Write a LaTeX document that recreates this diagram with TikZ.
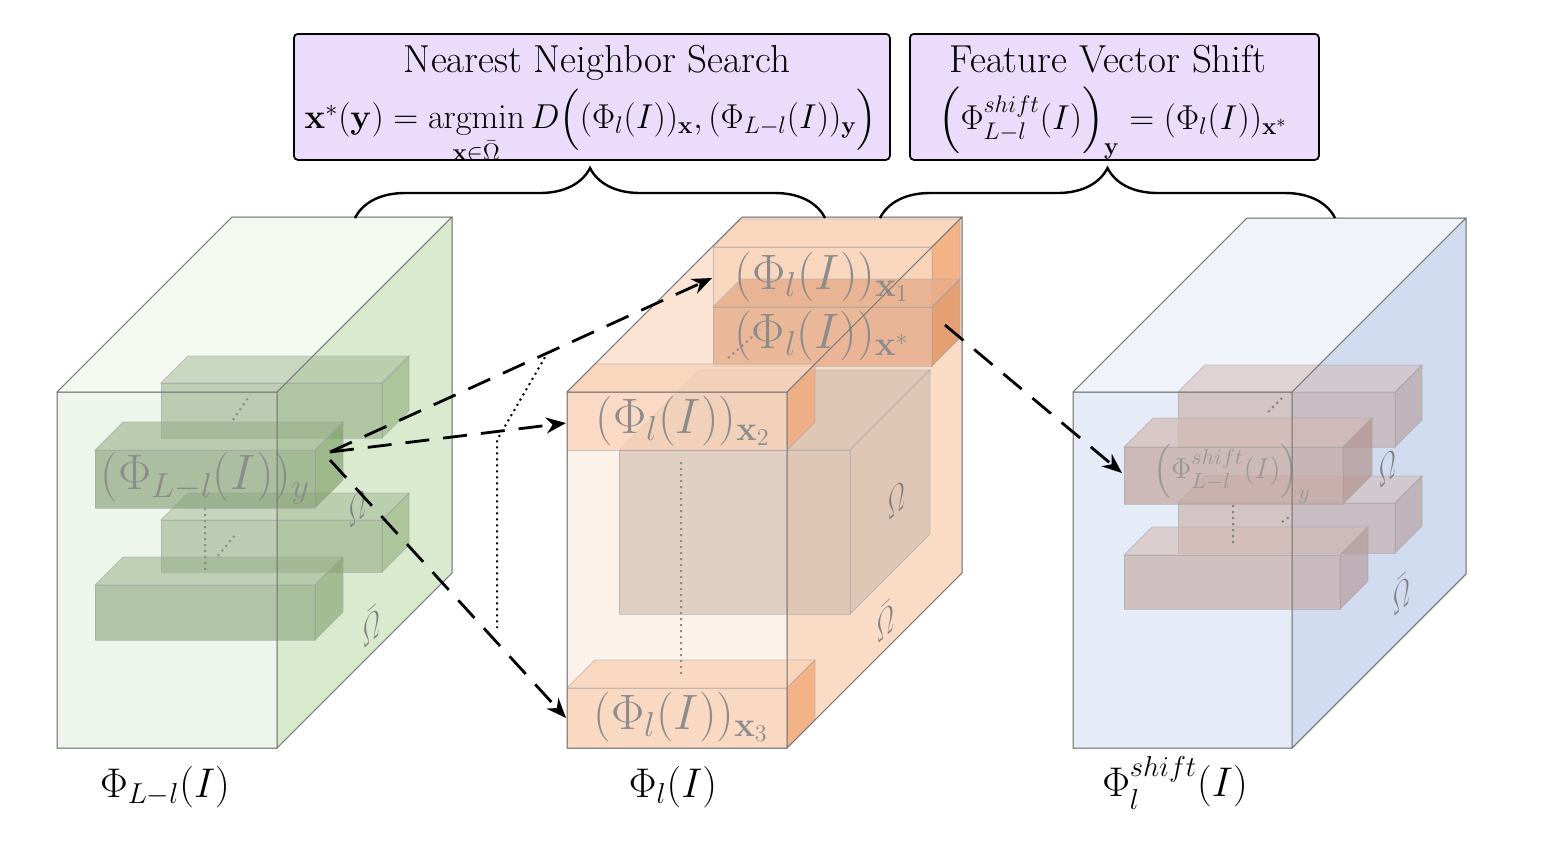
\documentclass[tikz,border=0pt]{standalone}
\usepackage{amsmath,amssymb}
\usetikzlibrary{arrows.meta,decorations.pathreplacing}
\newcommand\boxq[9]{% x y w h d front top side opacity
 \fill[#6,fill opacity=#9,draw=black!35,draw opacity=.6] (#1,#2) rectangle ({#1+#3},{#2+#4});
 \fill[#7,fill opacity=#9,draw=black!35,draw opacity=.6] (#1,#2) -- ({#1+#5},{#2-#5}) -- ({#1+#3+#5},{#2-#5}) -- ({#1+#3},#2) -- cycle;
 \fill[#8,fill opacity=#9,draw=black!35,draw opacity=.6] ({#1+#3},#2) -- ({#1+#3+#5},{#2-#5}) -- ({#1+#3+#5},{#2+#4-#5}) -- ({#1+#3},{#2+#4}) -- cycle;}
\newcommand\cubeedges[5]{% x y w h d
 \draw[black!55,line width=0.5pt] (#1,#2) rectangle ({#1+#3},{#2+#4})
 (#1,#2) -- ({#1+#5},{#2-#5}) -- ({#1+#3+#5},{#2-#5}) -- ({#1+#3},#2)
 ({#1+#3+#5},{#2-#5}) -- ({#1+#3+#5},{#2+#4-#5}) -- ({#1+#3},{#2+#4});}
\definecolor{gF}{HTML}{EEF5EA}\definecolor{gT}{HTML}{F3F8F0}\definecolor{gS}{HTML}{D9EACE}
\definecolor{gbF}{HTML}{7F9C70}\definecolor{gbT}{HTML}{98B089}\definecolor{gbS}{HTML}{76995F}
\definecolor{oF}{HTML}{FDF2EA}\definecolor{oT}{HTML}{FCE4D4}\definecolor{oS}{HTML}{FADCC6}
\definecolor{o1F}{HTML}{F9D3B9}\definecolor{o1S}{HTML}{F3A878}
\definecolor{o2F}{HTML}{E6AC8A}\definecolor{o2S}{HTML}{DF915F}
\definecolor{gyF}{HTML}{CFB8A8}
\definecolor{bF}{HTML}{E6ECF7}\definecolor{bT}{HTML}{F0F3FA}\definecolor{bS}{HTML}{D0DBEF}
\definecolor{pF}{HTML}{C4A49F}\definecolor{pT}{HTML}{D4BAB5}\definecolor{pS}{HTML}{B39490}
\definecolor{lav}{HTML}{EBDCFB}
\tikzset{
 lbl/.style={text=black!45,font=\fontsize{25}{28}\selectfont,inner sep=0pt},
 om/.style={text=black!50,font=\fontsize{22}{24}\selectfont,yslant=0.9,xscale=0.6,transform shape},
 dasharr/.style={line width=1.4pt,dash pattern=on 12pt off 7pt,-{Stealth[length=10pt,width=8pt]}},
 hdr/.style={draw=black,line width=0.9pt,fill=lav,rounded corners=2pt},
 brace/.style={line width=1.2pt,decorate,decoration={brace,amplitude=25pt}},
 capt/.style={font=\fontsize{19.5}{22}\selectfont},
 formA/.style={font=\fontsize{17}{20}\selectfont},
 formB/.style={font=\fontsize{18.5}{20}\selectfont},
 captb/.style={font=\fontsize{21}{24}\selectfont}
}
\begin{document}
\begin{tikzpicture}[x=0.5pt,y=-0.5pt]
\useasboundingbox (0,0) rectangle (1566,843);
% ---------- left cube
\boxq{57}{392}{220}{356}{175}{gF}{gT}{gS}{1}
\boxq{161}{383}{221}{55}{27}{gbF}{gbT}{gbS}{.45}
\boxq{161}{520}{221}{52}{27}{gbF}{gbT}{gbS}{.45}
\boxq{95}{585}{220}{55}{28}{gbF}{gbT}{gbS}{.55}
\boxq{95}{450}{220}{58}{28}{gbF}{gbT}{gbS}{.6}
\draw[black!45,dotted,line width=1pt] (205,508)--(205,572) (218,556)--(235,535) (233,420)--(250,395);
\node[lbl,anchor=west] (py) at (100,478) {$(\Phi_{L-l}(I))_y$};
\cubeedges{57}{392}{220}{356}{175}
\node[om] (om1) at (358,508) {$\Omega$};
\node[om] (omb1) at (372,625) {$\bar\Omega$};
% ---------- middle cube
\boxq{567}{392}{220}{356}{175}{oF}{oT}{oS}{1}
\boxq{619}{450}{231}{164}{80}{gyF}{gyF}{gyF}{.6}
\boxq{713}{247}{219}{60}{28}{o1F}{o1F}{o1S}{.8}
\boxq{713}{307}{219}{59}{28}{o2F}{o2F}{o2S}{.8}
\boxq{567}{392}{220}{58}{28}{o1F}{o1F}{o1S}{.75}
\boxq{567}{688}{220}{60}{28}{o1F}{o1F}{o1S}{.8}
\draw[black!45,dotted,line width=1pt] (681,462)--(681,676) (728,358)--(760,330);
\node[lbl] (x1) at (822,277) {$(\Phi_l(I))_{\mathbf{x}_1}$};
\node[lbl] (xs) at (822,336) {$(\Phi_l(I))_{\mathbf{x}^*}$};
\node[lbl] (x2) at (683,421) {$(\Phi_l(I))_{\mathbf{x}_2}$};
\node[lbl] (x3) at (681,717) {$(\Phi_l(I))_{\mathbf{x}_3}$};
\cubeedges{567}{392}{220}{356}{175}
\node[om] (om2) at (897,500) {$\Omega$};
\node[om] (omb2) at (886,620) {$\bar\Omega$};
% ---------- right cube
\boxq{1073}{392}{219}{356}{174}{bF}{bT}{bS}{1}
\boxq{1178}{392}{217}{55}{27}{pF}{pT}{pS}{.55}
\boxq{1178}{503}{217}{50}{27}{pF}{pT}{pS}{.55}
\boxq{1124}{555}{216}{54}{28}{pF}{pT}{pS}{.6}
\boxq{1124}{447}{219}{57}{29}{pF}{pT}{pS}{.7}
\draw[black!50,dotted,line width=1pt] (1233,505)--(1233,543) (1282,522)--(1292,515) (1268,412)--(1282,398);
\node[lbl,font=\fontsize{15}{17}\selectfont,text=black!40] (ys) at (1232,474) {$\left(\Phi^{shift}_{L-l}(I)\right)_y$};
\cubeedges{1073}{392}{219}{356}{174}
\node[om] (om3) at (1388,468) {$\Omega$};
\node[om] (omb3) at (1402,593) {$\bar\Omega$};
% ---------- arrows
\coordinate (s) at (330,452);
\coordinate (s2) at (330,460);
\coordinate (t1) at (712,278);
\coordinate (t2) at (566,423);
\coordinate (t3) at (566,718);
\coordinate (s4) at (945,325);
\coordinate (t4) at (1122,473);
\draw[dasharr] (s) -- (t1);
\draw[dasharr] (s) -- (t2);
\draw[dasharr] (s2) -- (t3);
\draw[dasharr] (s4) -- (t4);
\coordinate (d1) at (548,352);\coordinate (d2) at (497,440);\coordinate (d3) at (497,628);
\draw[dotted,line width=1pt] (d1) -- (d2) -- (d3);
% ---------- header boxes
\node[hdr,minimum width=298pt,minimum height=63pt,anchor=north west] (h1) at (293,33) {};
\node[capt,anchor=north] (h1t) at (597,38) {Nearest Neighbor Search};
\node[formA,anchor=north] (h1f) at (591,82) {$\mathbf{x}^*(\mathbf{y})=\operatorname*{argmin}\limits_{\mathbf{x}\in\bar\Omega} D\Bigl((\Phi_l(I))_{\mathbf{x}},(\Phi_{L-l}(I))_{\mathbf{y}}\Bigr)$};
\node[hdr,minimum width=204.5pt,minimum height=63pt,anchor=north west] (h2) at (909,33) {};
\node[capt,anchor=north] (h2t) at (1108,38) {Feature Vector Shift};
\node[formB,anchor=north] (h2f) at (1113,80) {$\Bigl(\Phi^{shift}_{L-l}(I)\Bigr)_{\mathbf{y}}=(\Phi_l(I))_{\mathbf{x}^*}$};
\coordinate (b1a) at (355,218);\coordinate (b1b) at (825,218);
\coordinate (b2a) at (880,218);\coordinate (b2b) at (1335,218);
\draw[brace] (b1a) -- (b1b);
\draw[brace] (b2a) -- (b2b);
% ---------- captions
\node[captb] (c1) at (165,787) {$\Phi_{L-l}(I)$};
\node[captb] (c2) at (673,787) {$\Phi_l(I)$};
\node[captb] (c3) at (1175,783) {$\Phi^{shift}_l(I)$};
\end{tikzpicture}
\end{document}
